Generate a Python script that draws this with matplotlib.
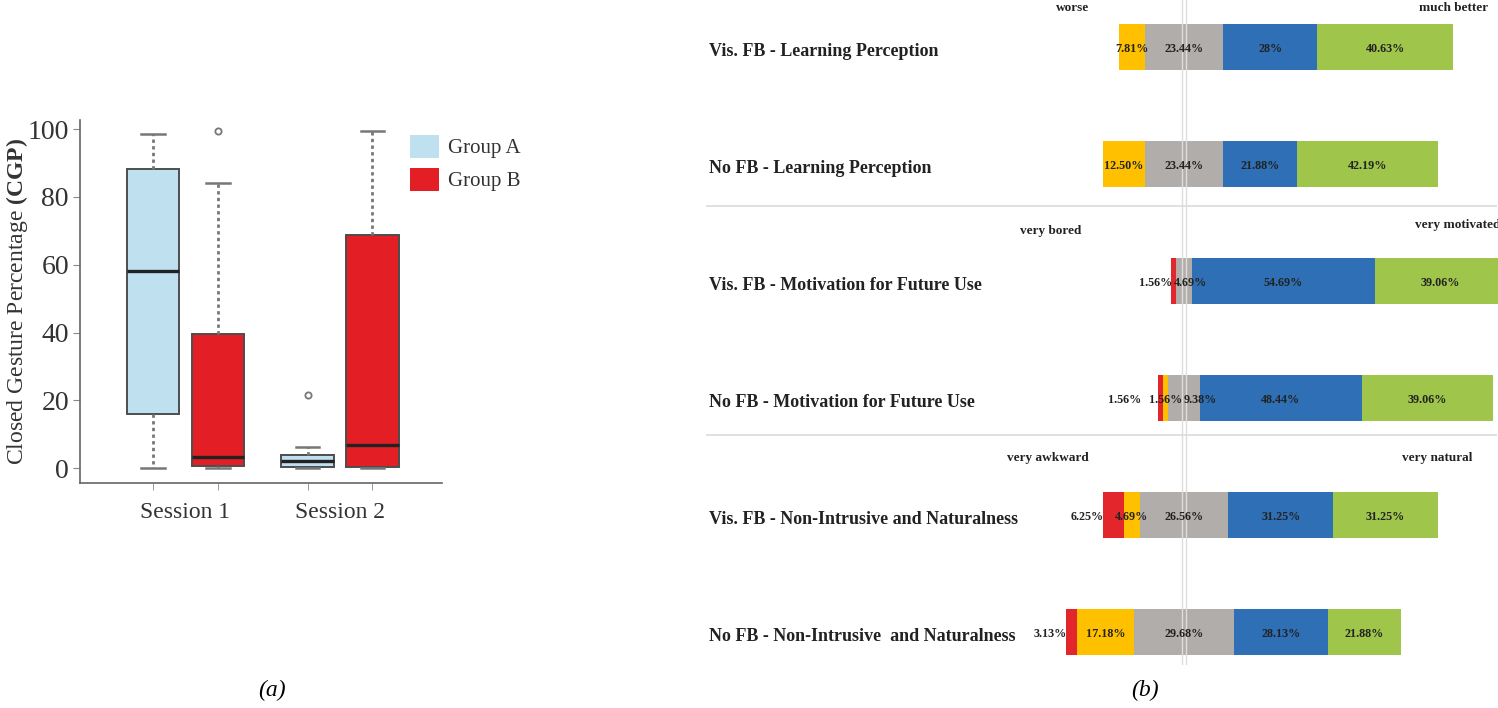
import numpy as np
import matplotlib
matplotlib.use("Agg")
import matplotlib.pyplot as plt
from matplotlib.patches import Patch

plt.rcParams['font.family'] = ['Liberation Serif', 'DejaVu Serif']
plt.rcParams['mathtext.fontset'] = 'custom'
plt.rcParams['mathtext.rm'] = 'Liberation Serif'
plt.rcParams['mathtext.bf'] = 'Liberation Serif:bold'

# (a) box plot data: whislo, q1, med, q3, whishi, outliers
sessions = ["Session 1", "Session 2"]
groups = ["Group A", "Group B"]
box_a = [(0.0, 15.9, 58.1, 88.1, 98.7, []),
         (0.0, 0.3, 2.1, 4.0, 6.3, [21.6])]
box_b = [(0.0, 0.6, 3.3, 39.5, 84.0, [99.4]),
         (0.0, 0.2, 6.8, 68.9, 99.4, [])]

# (b) diverging stacked bars
rows = ["Vis. FB - Learning Perception",
        "No FB - Learning Perception",
        "Vis. FB - Motivation for Future Use",
        "No FB - Motivation for Future Use",
        "Vis. FB - Non-Intrusive and Naturalness",
        "No FB - Non-Intrusive  and Naturalness"]
very_neg = [0.0, 0.0, 1.56, 1.56, 6.25, 3.13]
neg = [7.81, 12.50, 0.0, 1.56, 4.69, 17.18]
neutral = [23.44, 23.44, 4.69, 9.38, 26.56, 29.68]
pos = [28.0, 21.88, 54.69, 48.44, 31.25, 28.13]
very_pos = [40.63, 42.19, 39.06, 39.06, 31.25, 21.88]
value_labels = [
    ["", "7.81%", "23.44%", "28%", "40.63%"],
    ["", "12.50%", "23.44%", "21.88%", "42.19%"],
    ["1.56%", "", "4.69%", "54.69%", "39.06%"],
    ["1.56%", "1.56%", "9.38%", "48.44%", "39.06%"],
    ["6.25%", "4.69%", "26.56%", "31.25%", "31.25%"],
    ["3.13%", "17.18%", "29.68%", "28.13%", "21.88%"],
]
scale_ends = [("worse", "much better"),
              ("very bored", "very motivated"),
              ("very awkward", "very natural")]

col_a = "#bfe0ee"
col_b = "#e31e24"
seg_colors = ["#e3262b", "#ffc000", "#b1adaa", "#2e6fb5", "#9fc54a"]
txt = "#222222"

fig = plt.figure(figsize=(14.98, 7.08), dpi=100)

# ---------- (a) ----------
ax = fig.add_axes([80 / 1498, 1 - 483 / 708, 362 / 1498, 363 / 708])
centers = np.arange(1, len(sessions) + 1)
off = 0.21
w = 0.34
for stats_list, dx, col in [(box_a, -off, col_a), (box_b, off, col_b)]:
    stats = []
    for lo, q1, med, q3, hi, fl in stats_list:
        stats.append(dict(whislo=lo, q1=q1, med=med, q3=q3, whishi=hi, fliers=fl))
    ax.bxp(stats, positions=centers + dx, widths=w, patch_artist=True,
           boxprops=dict(facecolor=col, edgecolor="#4d4d4d", linewidth=1.4),
           medianprops=dict(color="#222222", linewidth=2.4),
           whiskerprops=dict(color="#777777", linewidth=2, linestyle=(0, (1.2, 1.2))),
           capprops=dict(color="#777777", linewidth=1.8),
           flierprops=dict(marker="o", markersize=4.5, markerfacecolor="white",
                           markeredgecolor="#777777", markeredgewidth=1.3),
           capwidths=w * 0.45, manage_ticks=False)

ax.set_xlim(0.317, 2.66)
ax.set_ylim(-4.4, 102.7)
ax.set_yticks([0, 20, 40, 60, 80, 100])
ax.set_xticks(np.concatenate([centers - off, centers + off]), minor=True)
ax.set_xticks(centers)
ax.set_xticklabels(sessions, fontsize=17, color="#333333")
ax.tick_params(axis="x", which="major", length=0, pad=14)
ax.tick_params(axis="x", which="minor", length=5, color="#888888")
ax.tick_params(axis="y", labelsize=20, length=5, color="#888888", pad=3, labelcolor="#333333")
for s in ["top", "right"]:
    ax.spines[s].set_visible(False)
for s in ["left", "bottom"]:
    ax.spines[s].set_color("#666666")
    ax.spines[s].set_linewidth(1.2)
ax.set_ylabel("Closed Gesture Percentage $\\bf{(CGP)}$", fontsize=17, color="#333333", labelpad=-2)
ax.legend(handles=[Patch(facecolor=col_a, edgecolor="none", label=groups[0]),
                   Patch(facecolor=col_b, edgecolor="none", label=groups[1])],
          loc="upper left", bbox_to_anchor=(0.86, 1.01), frameon=False, fontsize=15,
          handlelength=1.4, handleheight=1.3, handletextpad=0.4, labelspacing=0.45,
          labelcolor="#333333")
fig.text(272 / 1498, 1 - 690 / 708, "(a)", style="italic", fontsize=17, ha="center", va="center")

# ---------- (b) ----------
bx = fig.add_axes([700 / 1498, 1 - 665 / 708, 798 / 1498, 665 / 708])
px = 3.35
bx.set_xlim(-(1184 - 700) / px, (1498 - 1184) / px)
bx.set_ylim((665 - 47) / 117, -47 / 117)
bx.axis("off")

data = np.array([very_neg, neg, neutral, pos, very_pos]).T
y = np.arange(len(rows))
left = -(data[:, 0] + data[:, 1] + data[:, 2] / 2)
starts = left[:, None] + np.concatenate([np.zeros((len(rows), 1)), np.cumsum(data, axis=1)[:, :-1]], axis=1)
for k in range(5):
    bx.barh(y, data[:, k], left=starts[:, k], height=0.40, color=seg_colors[k], edgecolor="none")

# label placement: keep small-segment labels from overlapping
char_w = 6.3 / px
gap = 3 / px
lab_fs = 8.7
for i in range(len(rows)):
    labs = value_labels[i]
    wid = [len(s) * char_w for s in labs]
    cx = [starts[i, k] + data[i, k] / 2 for k in range(5)]
    # yellow stays centred
    yel_l = cx[1] - wid[1] / 2 if labs[1] else None
    yel_r = cx[1] + wid[1] / 2 if labs[1] else None
    # red goes to the left of the bar
    red_r = starts[i, 0] + 1.0 / px
    if yel_l is not None:
        red_r = min(red_r, yel_l - 3 * gap)
    # grey shifted right if needed
    bound = max(red_r if labs[0] else -999, yel_r if yel_r is not None else -999) + gap
    g_l = max(cx[2] - wid[2] / 2, bound)
    cx[2] = g_l + wid[2] / 2
    if labs[0]:
        bx.text(red_r, y[i] + 0.02, labs[0], ha="right", va="center",
                fontsize=lab_fs, fontweight="bold", color=txt)
    for k in range(1, 5):
        if labs[k]:
            bx.text(cx[k], y[i] + 0.02, labs[k], ha="center", va="center",
                    fontsize=lab_fs, fontweight="bold", color=txt)
    bx.text(-(1184 - 709) / px, y[i] + 0.04, rows[i], ha="left", va="center",
            fontsize=13, fontweight="bold", color=txt)

# light centre line and group separators
bx.axvline(-0.45, color="#dddddd", lw=1.0)
bx.axvline(0.45, color="#dddddd", lw=1.0)
for ys in [(206 - 47) / 117, (435 - 47) / 117]:
    bx.plot([-(1184 - 707) / px, (1496 - 1184) / px], [ys, ys], color="#dddddd", lw=1.3)

end_pos = [(-33.4, 80.5, -0.33), (-39.7, 69.0, 1.57), (-40.6, 75.5, 3.51)]
for (lo_lab, hi_lab), (xl, xr, yy) in zip(scale_ends, end_pos):
    bx.text(xl, yy, lo_lab, ha="center", va="center", fontsize=9.5, fontweight="bold", color=txt)
    if hi_lab == "very motivated":
        bx.text(xr, yy - 0.05, hi_lab, ha="left", va="center", fontsize=9.5,
                fontweight="bold", color=txt, clip_on=False)
    else:
        bx.text(xr, yy, hi_lab, ha="center", va="center", fontsize=9.5, fontweight="bold", color=txt)

fig.text(1145 / 1498, 1 - 690 / 708, "(b)", style="italic", fontsize=17, ha="center", va="center")

fig.savefig("out.png", dpi=100)
